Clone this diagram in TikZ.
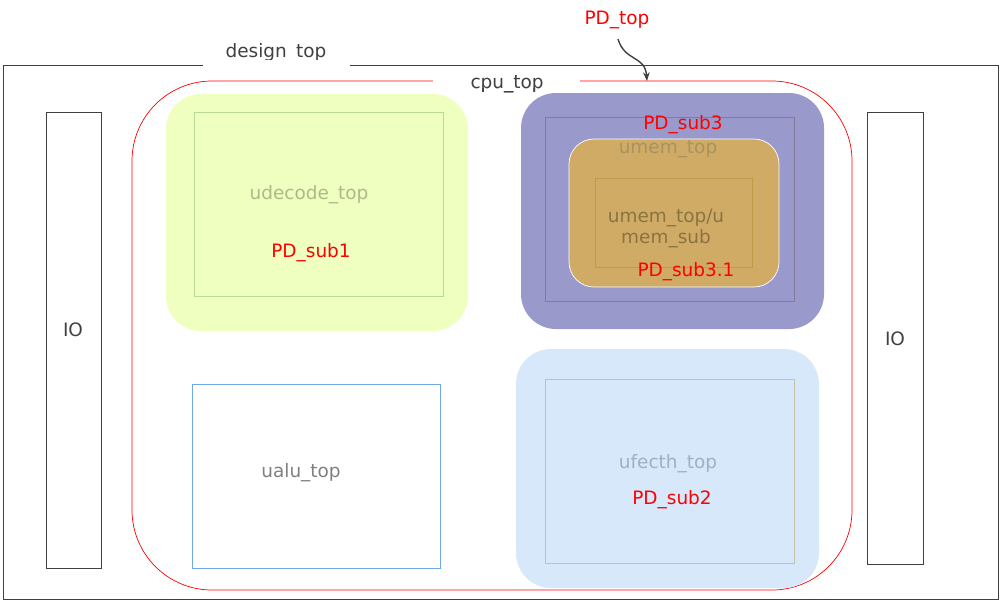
\documentclass[tikz,border=0pt]{standalone}
\usepackage{fontspec}
\setmainfont{DejaVu Sans}
\usetikzlibrary{arrows.meta}
\definecolor{frame}{HTML}{404040}
\definecolor{limefill}{HTML}{EEFFC0}
\definecolor{limeline}{HTML}{B9DA92}
\definecolor{limetext}{HTML}{AABB8A}
\definecolor{purplefill}{HTML}{9999CC}
\definecolor{purpleline}{HTML}{857A99}
\definecolor{goldfill}{HTML}{CFAB66}
\definecolor{goldline}{HTML}{C09A45}
\definecolor{goldtext}{HTML}{A8935F}
\definecolor{golddark}{HTML}{8B7340}
\definecolor{skyfill}{HTML}{D8E8FB}
\definecolor{skyline}{HTML}{C8C0A8}
\definecolor{skytext}{HTML}{A0B0C4}
\definecolor{aluline}{HTML}{6FA8E8}
\tikzset{
  lbl/.style={font=\fontsize{10.5}{12}\selectfont, text=frame},
  pd/.style={font=\fontsize{10.5}{12}\selectfont, text=red},
  cover/.style={lbl, fill=white, inner sep=4pt}
}
\begin{document}
\begin{tikzpicture}[x=0.02cm,y=-0.02cm]
  \useasboundingbox (0,0) rectangle (1000,600);

  % outer box and top domain
  \draw[frame] (3,65) rectangle (998,599);
  \draw[red] (132,81) [rounded corners=1.6cm] rectangle (852,590);
  \node[cover, minimum width=148\pgflinewidth] (design) at (276,53) {design\_top};
  \fill[white] (203,60) rectangle (350,70);
  \node[cover] (cpu) at (507,84) {cpu\_top};
  \fill[white] (433,76) rectangle (580,88);
  \node[lbl] (cpu) at (507,84) {cpu\_top};

  % IO columns
  \draw[frame] (46,112) rectangle (101,568);
  \node[cover] (ioL) at (73,330) {IO};
  \draw[frame] (867,112) rectangle (923,564);
  \node[cover] (ioR) at (895,339) {IO};

  % udecode
  \fill[limefill, rounded corners=0.7cm] (166,94) rectangle (468,331);
  \draw[limeline] (194,112) rectangle (443,296);
  \node[lbl, text=limetext] (udecode) at (309,195) {udecode\_top};
  \node[pd] (sub1) at (311,253) {PD\_sub1};

  % umem
  \fill[purplefill, rounded corners=0.7cm] (521,93) rectangle (824,329);
  \draw[purpleline] (545,117) rectangle (794,301);
  \filldraw[fill=goldfill, draw=white, rounded corners=0.5cm] (569,139) rectangle (779,287);
  \draw[goldline] (595,178) rectangle (752,267);
  \node[pd] (sub3) at (683,125) {PD\_sub3};
  \node[lbl, text=goldtext] (umem) at (668,149) {umem\_top};
  \node[lbl, text=golddark, align=center] (umemsub) at (666,228) {umem\_top/u\\mem\_sub};
  \node[pd] (sub31) at (686,272) {PD\_sub3.1};

  % ualu
  \draw[aluline] (192,384) rectangle (440,568);
  \node[lbl, text=gray] (ualu) at (301,473) {ualu\_top};

  % ufecth
  \fill[skyfill, rounded corners=0.7cm] (516,349) rectangle (819,588);
  \draw[skyline] (545,379) rectangle (794,563);
  \node[lbl, text=skytext] (ufecth) at (668,464) {ufecth\_top};
  \node[pd] (sub2) at (672,500) {PD\_sub2};

  % PD_top pointer
  \node[pd] (pdtop) at (617,20) {PD\_top};
  \coordinate (pdtip) at (647,81);
  \draw[frame, thick, -{Stealth[length=5pt]}] (pdtop.south) ++(1,4) .. controls (625,62) and (645,55) .. (pdtip);
\end{tikzpicture}
\end{document}
